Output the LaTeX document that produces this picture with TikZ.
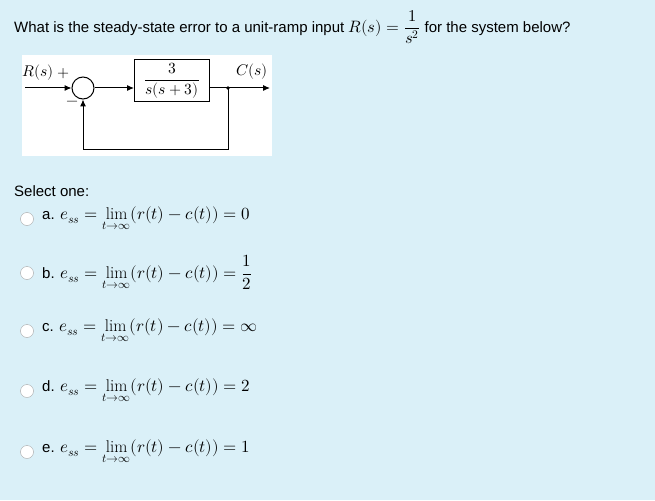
\documentclass[tikz,border=0pt]{standalone}
\usepackage{fontspec}
\setmainfont{Liberation Sans}
\usepackage{amsmath}
\usepackage{unicode-math}
\setmathfont{Latin Modern Math}
\setmathrm{Latin Modern Roman}
\usetikzlibrary{arrows.meta}
\definecolor{bg}{HTML}{DAF0F8}
\tikzset{txt/.style={anchor=west,inner sep=0pt,font=\fontsize{15}{17}\selectfont},
 radio/.style={circle,draw=gray!70,fill=white,minimum size=13pt,inner sep=0pt},
 dfont/.style={font=\fontsize{15.5}{17}\selectfont}}
\newcommand{\mth}[1]{{\fontsize{17}{19}\selectfont$#1$}}
\begin{document}
\begin{tikzpicture}[x=1pt,y=-1pt]
\fill[bg] (0,0) rectangle (655,500);
\useasboundingbox (0,0) rectangle (655,500);
\node[txt] (q) at (14,27) {What is the steady-state error to a unit-ramp input {\fontsize{16.5}{18}\selectfont$R(s)=\dfrac{1}{s^2}$} for the system below?};
\fill[white] (22,55) rectangle (272,156);
\node[circle,draw,line width=1pt,minimum size=22pt,inner sep=0pt] (sum) at (83,88) {};
\node[draw,line width=1pt,minimum width=75pt,minimum height=42pt,dfont] (g) at (172,81) {$\dfrac{3}{s(s+3)}$};
\coordinate (in) at (25,88);
\coordinate (tap) at (228,88);
\coordinate (out) at (270,88);
\coordinate (fb1) at (228,149);
\coordinate (fb2) at (83,149);
\draw[line width=1pt,-{Latex[length=7pt,width=6pt]}] (in) -- (sum);
\draw[line width=1pt,-{Latex[length=7pt,width=6pt]}] (sum) -- (g.west|-sum);
\draw[line width=1pt,-{Latex[length=7pt,width=6pt]}] (g.east|-tap) -- (out);
\fill (tap) circle (1.8pt);
\draw[line width=1pt,-{Latex[length=7pt,width=6pt]}] (tap) -- (fb1) -- (fb2) -- (sum);
\node[dfont] (rl) at (38,73) {$R(s)$};
\node[dfont] (cl) at (252,72) {$C(s)$};
\node[dfont] (pl) at (64,74) {$+$};
\node[dfont] (ml) at (73,103) {$-$};
\node[txt] (sel) at (14,191) {Select one:};
\foreach \y/\l/\r [count=\i] in {219/a/=0, 273/b/=\dfrac{1}{2}, 331/c/=\infty, 391/d/=2, 452/e/=1}{
 \node[radio] (r\i) at (27,\y) {};
 \node[txt] (o\i) at (42,\y) {\l. \mth{e_{ss}=\lim\limits_{t\to\infty}(r(t)-c(t))\r}};
}
\end{tikzpicture}
\end{document}
